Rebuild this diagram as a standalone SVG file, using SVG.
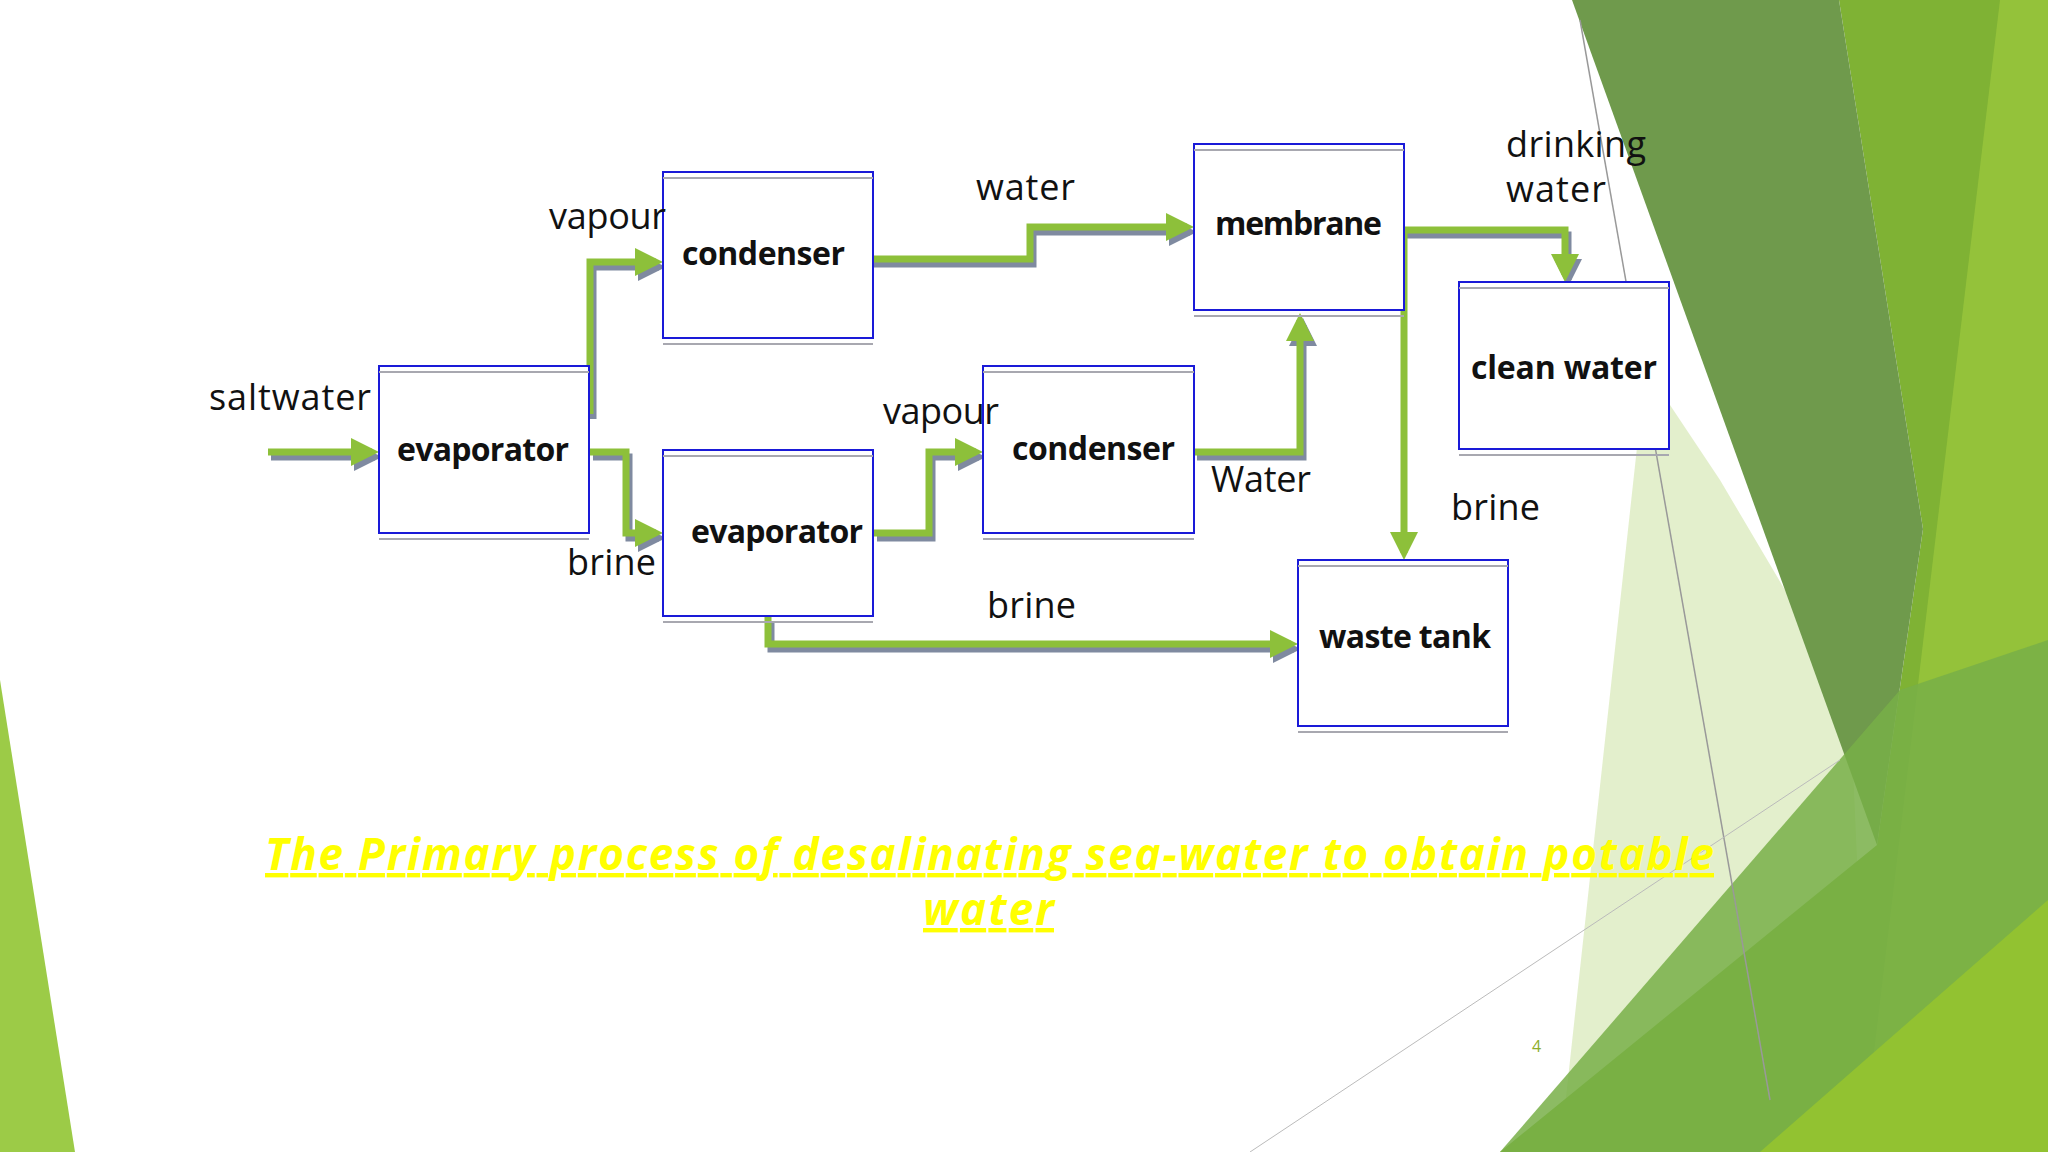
<svg xmlns="http://www.w3.org/2000/svg" width="2048" height="1152" viewBox="0 0 2048 1152">
<defs>
<style>
.box{fill:#fff;stroke:#1a1ad8;stroke-width:2}
.sh{stroke:#a8a8b0;stroke-width:2;fill:none}
.lb{font-family:"Open Sans","DejaVu Sans",sans-serif;font-size:36px;fill:#111}
.bd{font-family:"Open Sans","DejaVu Sans",sans-serif;font-size:32px;font-weight:bold;fill:#111}
.ln{fill:none;stroke:#8dc03a;stroke-width:7}
.lns{fill:none;stroke:#7f8aa0;stroke-width:7}
</style>
<marker id="ah" markerWidth="4" markerHeight="4" refX="3" refY="2" orient="auto" markerUnits="strokeWidth"><path d="M0,0 L4,2 L0,4 z" fill="#8dc03a"/></marker>
<marker id="ahs" markerWidth="4" markerHeight="4" refX="3" refY="2" orient="auto" markerUnits="strokeWidth"><path d="M0,0 L4,2 L0,4 z" fill="#7f8aa0"/></marker>
</defs>
<rect width="2048" height="1152" fill="#fff"/>
<g id="background">
<polygon points="0,680 75,1152 0,1152" fill="#9ccb47"/>
<polygon points="1600,300 1720,480 1850,700 1870,1152 1560,1152 1640,420" fill="#dcebbf" opacity="0.8"/>
<polygon points="1839,0 2048,0 2048,1152 1500,1152 1877,845 1923,529" fill="#7fb234"/>
<polygon points="2000,0 2048,0 2048,1152 1862,1152" fill="#98c43c" opacity="0.85"/>
<polygon points="1572,0 1839,0 1923,529 1877,845" fill="#6f9a4c"/>
<polygon points="1500,1152 1900,690 2048,640 2048,1152" fill="#78af48" opacity="0.85"/>
<polygon points="1760,1152 2048,900 2048,1152" fill="#92c231"/>
<line x1="1580" y1="20" x2="1770" y2="1100" stroke="#999" stroke-width="1.5"/>
<line x1="1250" y1="1152" x2="1840" y2="760" stroke="#bbb" stroke-width="1"/>
</g>
<g id="connectors">
<g transform="translate(3,5)">
<path class="lns" d="M268,452 H372" marker-end="url(#ahs)"/>
<path class="lns" d="M590,414 V262 H656" marker-end="url(#ahs)"/>
<path class="lns" d="M590,452 H626 V533 H656" marker-end="url(#ahs)"/>
<path class="lns" d="M874,533 H929 V452 H976" marker-end="url(#ahs)"/>
<path class="lns" d="M865,259 H1030 V227 H1187" marker-end="url(#ahs)"/>
<path class="lns" d="M1194,452 H1300 V320" marker-end="url(#ahs)"/>
<path class="lns" d="M1398,230 H1565 V275" marker-end="url(#ahs)"/>
<path class="lns" d="M768,617 V644 H1291" marker-end="url(#ahs)"/>
</g>
<path class="ln" d="M268,452 H372" marker-end="url(#ah)"/>
<path class="ln" d="M590,414 V262 H656" marker-end="url(#ah)"/>
<path class="ln" d="M590,452 H626 V533 H656" marker-end="url(#ah)"/>
<path class="ln" d="M874,533 H929 V452 H976" marker-end="url(#ah)"/>
<path class="ln" d="M865,259 H1030 V227 H1187" marker-end="url(#ah)"/>
<path class="ln" d="M1194,452 H1300 V320" marker-end="url(#ah)"/>
<path class="ln" d="M1398,230 H1565 V275" marker-end="url(#ah)"/>
<path class="ln" d="M1404,230 V553" marker-end="url(#ah)"/>
<path class="ln" d="M768,617 V644 H1291" marker-end="url(#ah)"/>
</g>
<g id="evaporator1"><rect class="box" x="379" y="366" width="210" height="167"/><path class="sh" d="M379,372 H589 M379,539 H589"/><text class="bd" x="397" y="461" textLength="172">evaporator</text></g>
<g id="condenser1"><rect class="box" x="663" y="172" width="210" height="166"/><path class="sh" d="M663,178 H873 M663,344 H873"/><text class="bd" x="682" y="265" textLength="163">condenser</text></g>
<g id="evaporator2"><rect class="box" x="663" y="450" width="210" height="166"/><path class="sh" d="M663,456 H873 M663,622 H873"/><text class="bd" x="691" y="543" textLength="172">evaporator</text></g>
<g id="condenser2"><rect class="box" x="983" y="366" width="211" height="167"/><path class="sh" d="M983,372 H1194 M983,539 H1194"/><text class="bd" x="1012" y="460" textLength="163">condenser</text></g>
<g id="membrane"><rect class="box" x="1194" y="144" width="210" height="166"/><path class="sh" d="M1194,150 H1404 M1194,316 H1404"/><text class="bd" x="1215" y="235" textLength="167">membrane</text></g>
<g id="cleanwater"><rect class="box" x="1459" y="282" width="210" height="167"/><path class="sh" d="M1459,288 H1669 M1459,455 H1669"/><text class="bd" x="1471" y="379" textLength="186">clean water</text></g>
<g id="wastetank"><rect class="box" x="1298" y="560" width="210" height="166"/><path class="sh" d="M1298,566 H1508 M1298,732 H1508"/><text class="bd" x="1319" y="648" textLength="172">waste tank</text></g>
<g id="labels">
<text class="lb" x="209" y="410" textLength="162">saltwater</text>
<text class="lb" x="549" y="229" textLength="117">vapour</text>
<text class="lb" x="976" y="200" textLength="99">water</text>
<text class="lb" x="1506" y="157" textLength="140">drinking</text>
<text class="lb" x="1506" y="202" textLength="100">water</text>
<text class="lb" x="883" y="424" textLength="116">vapour</text>
<text class="lb" x="1211" y="492" textLength="100">Water</text>
<text class="lb" x="1451" y="520" textLength="89">brine</text>
<text class="lb" x="567" y="575" textLength="89">brine</text>
<text class="lb" x="987" y="618" textLength="89">brine</text>
</g>
<g id="caption" font-family="'Open Sans','DejaVu Sans',sans-serif" font-size="44" font-style="italic" font-weight="bold" fill="#ffff00" text-decoration="underline">
<text x="265" y="870" textLength="1449">The Primary process of desalinating sea-water to obtain potable</text>
<text x="923" y="925" textLength="131">water</text>
</g>
<text x="1532" y="1052" font-family="'Open Sans',sans-serif" font-size="16" fill="#8dae2a">4</text>
</svg>
